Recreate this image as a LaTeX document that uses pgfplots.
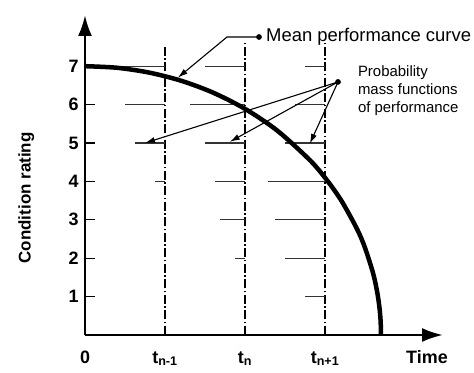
\documentclass[border=0pt]{standalone}
\usepackage{fontspec}
\setmainfont{Liberation Sans}
\usepackage{pgfplots}
\pgfplotsset{compat=1.18}
\usetikzlibrary{arrows.meta}
\begin{document}
\begin{tikzpicture}
\useasboundingbox (-85bp,-38bp) rectangle (389bp,335bp);
\begin{axis}[
  scale only axis,
  width=358bp, height=320bp,
  xmin=0, xmax=4.475, ymin=0, ymax=8.333,
  enlargelimits=false,
  axis lines=left,
  axis line style={line width=2.6bp, -{Latex[length=21bp,width=14bp]}},
  clip=false,
  ytick={1,2,3,4,5,6,7},
  tick align=inside,
  major tick length=10bp,
  ytick style={line width=1.2bp, black},
  xtick={0,1,2,3},
  xticklabels={{\textbf{0}},{\textbf{t}\textsubscript{\textbf{n-1}}},{\textbf{t}\textsubscript{\textbf{n}}},{\textbf{t}\textsubscript{\textbf{n+1}}}},
  xtick style={draw=none},
  xticklabel style={font=\fontsize{18}{20}\selectfont, anchor=base, yshift=-28bp},
  yticklabel style={font=\bfseries\fontsize{18}{20}\selectfont, anchor=east, xshift=-3bp},
  /pgf/number format/assume math mode=true,
  unbounded coords=jump,
]
% dash-dot time lines
\addplot[black, line width=1.3bp, dash pattern=on 9bp off 2.5bp on 1.5bp off 2.5bp] coordinates {(1,0) (1,7.5)};
\addplot[black, line width=1.3bp, dash pattern=on 9bp off 2.5bp on 1.5bp off 2.5bp] coordinates {(2,0) (2,7.6)};
\addplot[black, line width=1.3bp, dash pattern=on 9bp off 2.5bp on 1.5bp off 2.5bp] coordinates {(3,0) (3,7.6)};
% probability mass functions at t_{n-1}
\addplot[black!80, line width=1.2bp] coordinates {
 (0.30,7) (1,7) (nan,nan)
 (0.50,6) (1,6) (nan,nan)
 (0.625,5) (1,5) (nan,nan)
 (0.875,4) (1,4)};
% at t_n
\addplot[black!80, line width=1.2bp] coordinates {
 (1.50,7) (2,7) (nan,nan)
 (1.3125,6) (2,6) (nan,nan)
 (1.50,5) (2,5) (nan,nan)
 (1.625,4) (2,4) (nan,nan)
 (1.6875,3) (2,3) (nan,nan)
 (1.875,2) (2,2)};
% at t_{n+1}
\addplot[black!80, line width=1.2bp] coordinates {
 (2.75,7) (3,7) (nan,nan)
 (2.625,6) (3,6) (nan,nan)
 (2.50,5) (3,5) (nan,nan)
 (2.29,4) (3,4) (nan,nan)
 (2.375,3) (3,3) (nan,nan)
 (2.50,2) (3,2) (nan,nan)
 (2.75,1) (3,1)};
% mean performance curve
\addplot[black, line width=4.5bp, smooth] coordinates {
 (0,7) (0.4,6.959) (0.8,6.834) (1.2,6.622) (1.6,6.312) (2.0,5.889)
 (2.4,5.328) (2.8,4.576) (3.0,4.097) (3.2,3.514) (3.4,2.761) (3.5,2.270)
 (3.6,1.617) (3.65,1.147) (3.68,0.727) (3.695,0.364) (3.7,0)};
% annotation dots
\addplot[only marks, mark=*, mark size=2.6bp, black] coordinates {(2.175,7.76) (3.1625,6.59)};
% annotation arrows
\draw[line width=1.1bp, -{Latex[length=10bp,width=6bp]}] (axis cs:2.175,7.76) -- (axis cs:1.775,7.76) -- (axis cs:1.16,6.70);
\draw[line width=1.1bp, -{Latex[length=10bp,width=6bp]}] (axis cs:3.1625,6.59) -- (axis cs:0.75,5.0);
\draw[line width=1.1bp, -{Latex[length=10bp,width=6bp]}] (axis cs:3.1625,6.59) -- (axis cs:1.81,5.03);
\draw[line width=1.1bp, -{Latex[length=10bp,width=6bp]}] (axis cs:3.1625,6.59) -- (axis cs:2.81,4.98);
% texts
\node[anchor=west, inner sep=0pt, font=\fontsize{18.5}{20}\selectfont] at (axis cs:2.2625,7.76) {Mean performance curve};
\node[anchor=north west, inner sep=0pt, align=left, font=\fontsize{15}{18}\selectfont] at (axis cs:3.41,7.02) {Probability\\mass functions\\of performance};
\node[anchor=base, font=\bfseries\fontsize{18}{20}\selectfont] at (axis cs:4.275,-0.73) {Time};
\node[rotate=90, font=\bfseries\fontsize{17}{20}\selectfont] at (axis cs:-0.735,3.57) {Condition rating};
\end{axis}
\end{tikzpicture}
\end{document}
